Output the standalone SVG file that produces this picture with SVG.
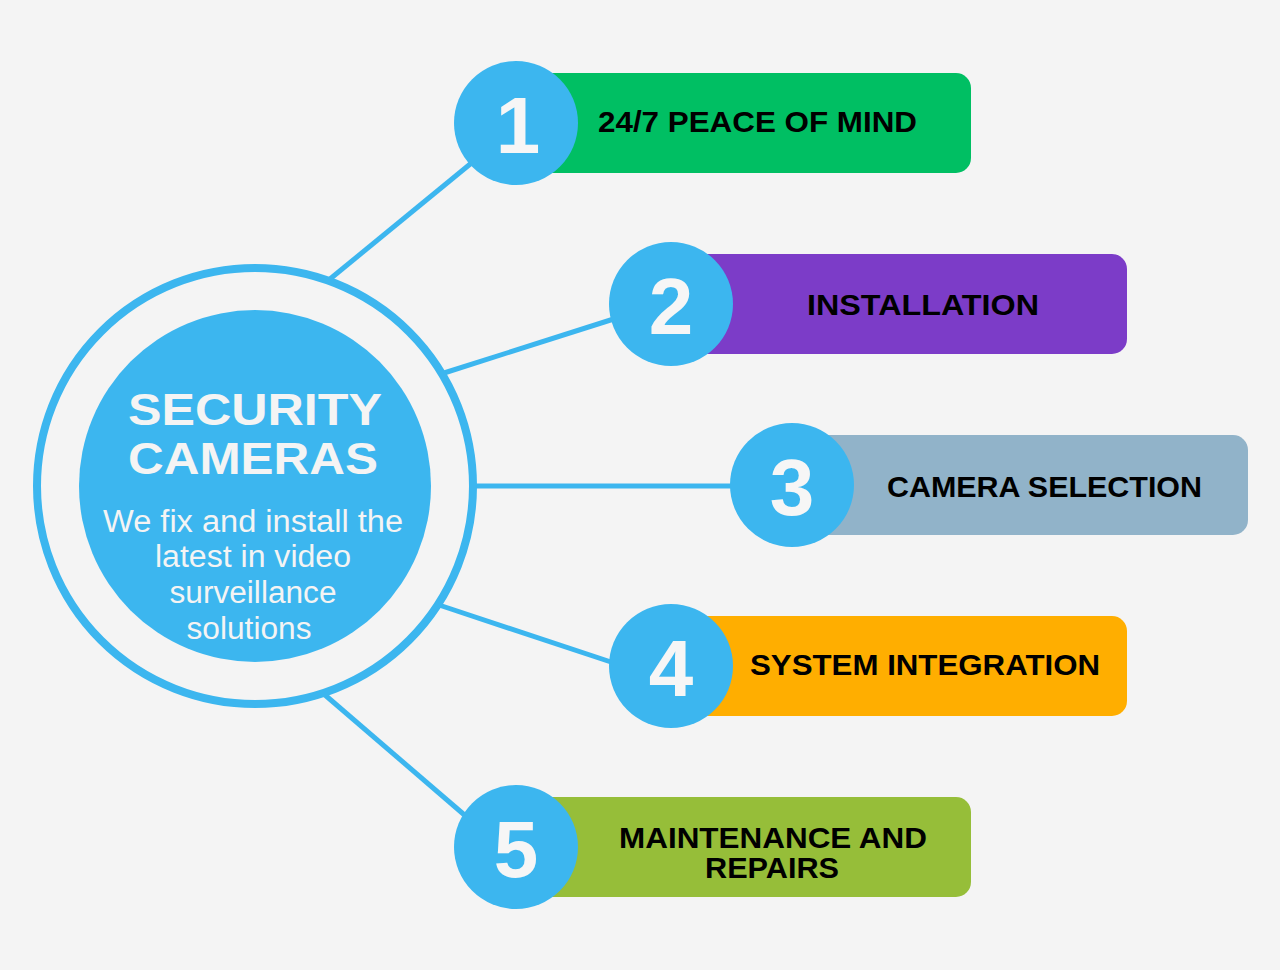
<svg xmlns="http://www.w3.org/2000/svg" width="1280" height="970" viewBox="0 0 1280 970">
<style>
.bg{fill:#f4f4f4}
.conn line{stroke:#3cb6ef;stroke-width:5;stroke-linecap:butt}
.num{fill:#3cb6ef}
.digit{font-family:"Liberation Sans",Arial,sans-serif;font-weight:bold;font-size:80px;fill:#f6f6f6;text-anchor:middle}
.lbl{font-family:"Liberation Sans",Arial,sans-serif;font-weight:bold;font-size:30px;fill:#000}
.title{font-family:"Liberation Sans",Arial,sans-serif;font-weight:bold;font-size:44px;fill:#f4f4f4;text-anchor:middle}
.sub{font-family:"Liberation Sans",Arial,sans-serif;font-size:31px;fill:#f4f4f4;text-anchor:middle}
</style>
<rect class="bg" x="0" y="0" width="1280" height="970"/>
<g id="connectors" class="conn">
<line x1="330" y1="279" x2="480" y2="156"/>
<line x1="444" y1="373" x2="620" y2="317"/>
<line x1="474" y1="486" x2="740" y2="486"/>
<line x1="439" y1="605" x2="614" y2="663"/>
<line x1="325" y1="695" x2="468" y2="818"/>
</g>
<g id="center">
<circle cx="255" cy="486" r="218" fill="none" stroke="#3cb6ef" stroke-width="8"/>
<circle cx="255" cy="486" r="176" fill="#3cb6ef"/>
<text class="title" x="255" y="425" textLength="254" lengthAdjust="spacingAndGlyphs">SECURITY</text>
<text class="title" x="253" y="474" textLength="250" lengthAdjust="spacingAndGlyphs">CAMERAS</text>
<text class="sub" x="253" y="532" textLength="300" lengthAdjust="spacingAndGlyphs">We fix and install the</text>
<text class="sub" x="253" y="567" textLength="196" lengthAdjust="spacingAndGlyphs">latest in video</text>
<text class="sub" x="253" y="603" textLength="167" lengthAdjust="spacingAndGlyphs">surveillance</text>
<text class="sub" x="249" y="639" textLength="125" lengthAdjust="spacingAndGlyphs">solutions</text>
</g>
<g id="node1">
<rect x="530" y="73" width="441" height="100" rx="15" fill="#00bf63"/>
<circle class="num" cx="516" cy="123" r="62"/>
<text class="digit" x="518" y="153">1</text>
<text class="lbl" x="598" y="132" textLength="319" lengthAdjust="spacingAndGlyphs">24/7 PEACE OF MIND</text>
</g>
<g id="node2">
<rect x="690" y="254" width="437" height="100" rx="15" fill="#7c3cc8"/>
<circle class="num" cx="671" cy="304" r="62"/>
<text class="digit" x="671" y="334">2</text>
<text class="lbl" x="807" y="315" textLength="232" lengthAdjust="spacingAndGlyphs">INSTALLATION</text>
</g>
<g id="node3">
<rect x="810" y="435" width="438" height="100" rx="15" fill="#91b3c9"/>
<circle class="num" cx="792" cy="485" r="62"/>
<text class="digit" x="792" y="515">3</text>
<text class="lbl" x="887" y="497" textLength="315" lengthAdjust="spacingAndGlyphs">CAMERA SELECTION</text>
</g>
<g id="node4">
<rect x="690" y="616" width="437" height="100" rx="15" fill="#ffae00"/>
<circle class="num" cx="671" cy="666" r="62"/>
<text class="digit" x="671" y="696">4</text>
<text class="lbl" x="750" y="675" textLength="350" lengthAdjust="spacingAndGlyphs">SYSTEM INTEGRATION</text>
</g>
<g id="node5">
<rect x="530" y="797" width="441" height="100" rx="15" fill="#96be39"/>
<circle class="num" cx="516" cy="847" r="62"/>
<text class="digit" x="516" y="877">5</text>
<text class="lbl" x="619" y="848" textLength="308" lengthAdjust="spacingAndGlyphs">MAINTENANCE AND</text>
<text class="lbl" x="705" y="878" textLength="134" lengthAdjust="spacingAndGlyphs">REPAIRS</text>
</g>
</svg>
